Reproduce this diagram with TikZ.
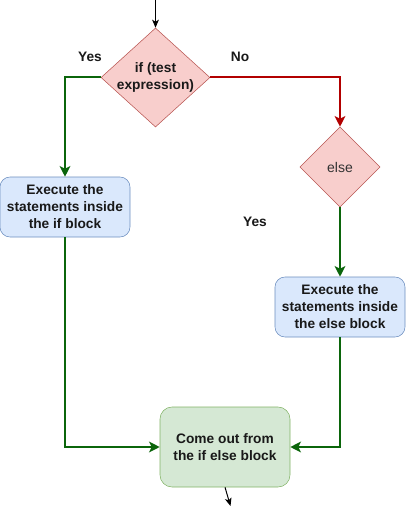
\documentclass[tikz,border=0pt]{standalone}
\usepackage{fontspec}
\setmainfont{Liberation Sans}
\usetikzlibrary{shapes.geometric,arrows.meta}
\definecolor{bfill}{HTML}{DAE8FC}\definecolor{bdraw}{HTML}{6C8EBF}
\definecolor{pfill}{HTML}{F8CECC}\definecolor{pdraw}{HTML}{B85450}
\definecolor{gfill}{HTML}{D5E8D4}\definecolor{gdraw}{HTML}{82B366}
\definecolor{gline}{HTML}{0B650B}\definecolor{rline}{HTML}{B20000}
\begin{document}
\begin{tikzpicture}[x=0.75pt,y=-0.75pt,
  txt/.style={font=\fontsize{10.3}{12.75}\selectfont\bfseries,align=center,text=black!90},
  block/.style={draw=bdraw,fill=bfill,rounded corners=7.5pt,minimum width=97.5pt,minimum height=45pt,inner sep=0pt,txt},
  outblock/.style={draw=gdraw,fill=gfill,rounded corners=9pt,minimum width=97.5pt,minimum height=60pt,inner sep=0pt,txt},
  dec/.style={draw=pdraw,fill=pfill,shape=diamond,inner sep=0pt},
  gl/.style={draw=gline,line width=1.5pt,-{Stealth[length=8pt,width=8pt,inset=2pt]}},
  rl/.style={draw=rline,line width=1.5pt,-{Stealth[length=8pt,width=8pt,inset=2pt]}},
  bl/.style={draw=black,line width=0.75pt,-{Stealth[length=6pt,width=5pt,inset=1.5pt]}},
  lab/.style={txt}]
\useasboundingbox (0,0) rectangle (406,517);
\node[dec,minimum width=81.75pt,minimum height=74.25pt,label={[txt]center:if (test\\expression)}] (d1) at (155.5,77.5) {};
\node[dec,minimum width=60pt,minimum height=60pt,label={[font=\fontsize{10.5}{12.75}\selectfont,text=black!80]center:else}] (d2) at (340,167) {};
\node[block] (b1) at (65,207) {Execute the\\statements inside\\the if block};
\node[block] (b2) at (340,307) {Execute the\\statements inside\\the else block};
\node[outblock] (b3) at (225,447) {Come out from\\the if else block};
\coordinate (top) at (155.5,0);
\coordinate (bot) at (230.5,506);
\node[lab] (yes1) at (90,57) {Yes};
\node[lab] (no1) at (240,57) {No};
\node[lab] (yes2) at (255,222) {Yes};
\draw[bl] (top) -- (d1.north);
\draw[gl] (d1.west) -| (b1.north);
\draw[rl] (d1.east) -| (d2.north);
\draw[gl] (d2.south) -- (b2.north);
\draw[gl] (b1.south) |- (b3.west);
\draw[gl] (b2.south) |- (b3.east);
\draw[bl] (b3.south) -- (bot);
\end{tikzpicture}
\end{document}
